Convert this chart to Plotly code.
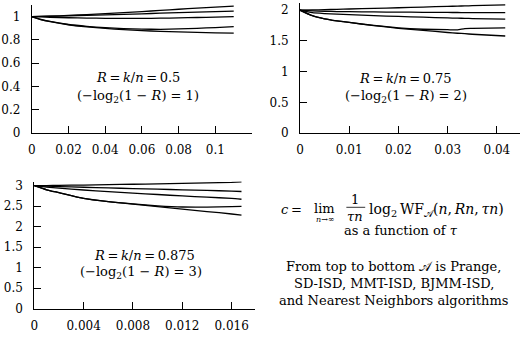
import plotly.graph_objects as go

W, H = 521, 340

# ---------------- data ----------------
names = ["Prange", "SD-ISD", "MMT-ISD", "BJMM-ISD", "Nearest Neighbors"]

tau_r050 = [0, 0.005, 0.01, 0.02, 0.03, 0.04, 0.05, 0.06, 0.07, 0.08, 0.09, 0.10, 0.11]
prange_r050 = [1.0, 1.002, 1.004, 1.010, 1.017, 1.025, 1.034, 1.043, 1.053, 1.063, 1.073, 1.082, 1.089]
sd_r050 = [1.0, 1.001, 1.003, 1.006, 1.010, 1.014, 1.019, 1.024, 1.029, 1.034, 1.038, 1.043, 1.047]
mmt_r050 = [1.0, 0.997, 0.994, 0.990, 0.987, 0.985, 0.984, 0.984, 0.986, 0.989, 0.992, 0.996, 1.0]
bjmm_r050 = [1.0, 0.975, 0.958, 0.932, 0.916, 0.905, 0.897, 0.892, 0.891, 0.894, 0.899, 0.906, 0.913]
nn_r050 = [1.0, 0.974, 0.956, 0.930, 0.912, 0.898, 0.888, 0.880, 0.873, 0.868, 0.864, 0.861, 0.858]

tau_r075 = [0, 0.0025, 0.005, 0.0075, 0.01, 0.015, 0.02, 0.025, 0.03, 0.032, 0.0335, 0.035, 0.0417]
prange_r075 = [2.0, 2.004, 2.009, 2.014, 2.019, 2.029, 2.040, 2.051, 2.062, 2.066, 2.070, 2.073, 2.086]
sd_r075 = [2.0, 1.990, 1.983, 1.978, 1.975, 1.971, 1.968, 1.966, 1.963, 1.962, 1.961, 1.961, 1.959]
mmt_r075 = [2.0, 1.960, 1.945, 1.935, 1.927, 1.912, 1.898, 1.886, 1.874, 1.870, 1.867, 1.864, 1.853]
bjmm_r075 = [2.0, 1.910, 1.860, 1.827, 1.800, 1.752, 1.712, 1.690, 1.682, 1.680, 1.700, 1.703, 1.712]
nn_r075 = [2.0, 1.910, 1.860, 1.827, 1.800, 1.750, 1.705, 1.670, 1.637, 1.625, 1.617, 1.608, 1.580]

tau_r0875 = [0, 0.001, 0.002, 0.004, 0.006, 0.008, 0.010, 0.012, 0.014, 0.016, 0.0168]
prange_r0875 = [3.0, 3.004, 3.008, 3.016, 3.025, 3.035, 3.045, 3.056, 3.068, 3.081, 3.092]
sd_r0875 = [3.0, 2.988, 2.978, 2.962, 2.945, 2.930, 2.915, 2.900, 2.885, 2.868, 2.858]
mmt_r0875 = [3.0, 2.965, 2.940, 2.895, 2.855, 2.820, 2.785, 2.750, 2.720, 2.690, 2.670]
bjmm_r0875 = [3.0, 2.900, 2.830, 2.690, 2.610, 2.555, 2.510, 2.480, 2.478, 2.488, 2.495]
nn_r0875 = [3.0, 2.900, 2.830, 2.690, 2.610, 2.550, 2.490, 2.430, 2.370, 2.310, 2.280]

xt_r050 = [0, 0.02, 0.04, 0.06, 0.08, 0.1]
xl_r050 = ["0", "0.02", "0.04", "0.06", "0.08", "0.1"]
yt_r050 = [0, 0.2, 0.4, 0.6, 0.8, 1]
yl_r050 = ["0", "0.2", "0.4", "0.6", "0.8", "1"]

xt_r075 = [0, 0.01, 0.02, 0.03, 0.04]
xl_r075 = ["0", "0.01", "0.02", "0.03", "0.04"]
yt_r075 = [0, 0.5, 1, 1.5, 2]
yl_r075 = ["0", "0.5", "1", "1.5", "2"]

xt_r0875 = [0, 0.004, 0.008, 0.012, 0.016]
xl_r0875 = ["0", "0.004", "0.008", "0.012", "0.016"]
yt_r0875 = [0, 0.5, 1, 1.5, 2, 2.5, 3]
yl_r0875 = ["0", "0.5", "1", "1.5", "2", "2.5", "3"]

# ---------------- figure ----------------
FONT = "DejaVu Serif, Liberation Serif, serif"
fig = go.Figure()

panels = [
    ("x", "y", tau_r050, [prange_r050, sd_r050, mmt_r050, bjmm_r050, nn_r050]),
    ("x2", "y2", tau_r075, [prange_r075, sd_r075, mmt_r075, bjmm_r075, nn_r075]),
    ("x3", "y3", tau_r0875, [prange_r0875, sd_r0875, mmt_r0875, bjmm_r0875, nn_r0875]),
]
for xa, ya, xs, series in panels:
    for nm, ys in zip(names, series):
        fig.add_trace(go.Scatter(x=xs, y=ys, mode="lines", name=nm, xaxis=xa, yaxis=ya,
                                 line=dict(color="black", width=1.3, shape="spline", smoothing=0.5),
                                 showlegend=False, hoverinfo="skip"))

def px(x):
    return x / W

def py(y):
    return 1 - y / H

def ax(domain, rng, tv, tt, standoff):
    return dict(domain=domain, range=rng, tickvals=tv, ticktext=tt, ticks="inside", ticklen=7,
                tickwidth=1, tickcolor="black", showline=True, linecolor="black", linewidth=1,
                showgrid=False, zeroline=False, ticklabelstandoff=standoff,
                tickfont=dict(family=FONT, size=12, color="black"), fixedrange=True)

layout = dict(
    width=W, height=H, margin=dict(l=0, r=0, t=0, b=0),
    paper_bgcolor="white", plot_bgcolor="white", showlegend=False,
    xaxis=ax([px(28), px(250)], [0, 0.12], xt_r050, xl_r050, 6),
    yaxis=ax([py(134), py(2)], [0, 1.1], yt_r050, yl_r050, 8),
    xaxis2=ax([px(298.3), px(520)], [0, 0.0447], xt_r075, xl_r075, 6),
    yaxis2=ax([py(134), 1.0], [0, 2.117], yt_r075, yl_r075, 8),
    xaxis3=ax([px(30.5), px(253)], [0, 0.0179], xt_r0875, xl_r0875, 6),
    yaxis3=ax([py(315), py(184)], [0, 3.1], yt_r0875, yl_r0875, 8),
)
layout["xaxis"]["anchor"] = "y"
layout["yaxis"]["anchor"] = "x"
layout["xaxis2"]["anchor"] = "y2"
layout["yaxis2"]["anchor"] = "x2"
layout["xaxis3"]["anchor"] = "y3"
layout["yaxis3"]["anchor"] = "x3"
fig.update_layout(**layout)

def note(text, x, y, size=13):
    fig.add_annotation(text=text, x=px(x), y=py(y), xref="paper", yref="paper",
                       xanchor="center", yanchor="middle", showarrow=False,
                       font=dict(family=FONT, size=size, color="black"))

EQ = "\u2009=\u2009"
EQ2 = " = "
note("<i>R</i>" + EQ + "<i>k</i>/<i>n</i>" + EQ + "0.5", 135, 77)
note("(\u2212log<sub>2</sub>(1 \u2212 <i>R</i>)" + EQ2 + "1)", 135, 96)
note("<i>R</i>" + EQ + "<i>k</i>/<i>n</i>" + EQ + "0.75", 405, 78)
note("(\u2212log<sub>2</sub>(1 \u2212 <i>R</i>)" + EQ2 + "2)", 405, 96)
note("<i>R</i>" + EQ + "<i>k</i>/<i>n</i>" + EQ + "0.875", 142, 260)
note("(\u2212log<sub>2</sub>(1 \u2212 <i>R</i>)" + EQ2 + "3)", 138, 278)

# formula block
note("<i>c</i>" + EQ, 291, 213)
note("lim", 323, 212)
note("<i>n</i>\u2192\u221e", 323.5, 223, size=8)
note("1", 354, 202.5)
note("<i>\u03c4n</i>", 354, 220)
fig.add_shape(type="line", xref="paper", yref="paper", x0=px(345), x1=px(364),
              y0=py(210.5), y1=py(210.5), line=dict(color="black", width=0.8))
note("log<sub>2</sub>\u2009WF<sub>\U0001D49C</sub>(<i>n</i>,\u2009<i>Rn</i>,\u2009<i>\u03c4n</i>)", 436, 213.5, size=14)
note("as a function of <i>\u03c4</i>", 400, 234)
note("From top to bottom \U0001D49C is Prange,", 393, 271)
note("SD-ISD, MMT-ISD, BJMM-ISD,", 393, 289)
note("and Nearest Neighbors algorithms", 393, 306.5)

fig.write_html("out.html", config={"displayModeBar": False},
               post_script="document.body.style.margin='0';")
